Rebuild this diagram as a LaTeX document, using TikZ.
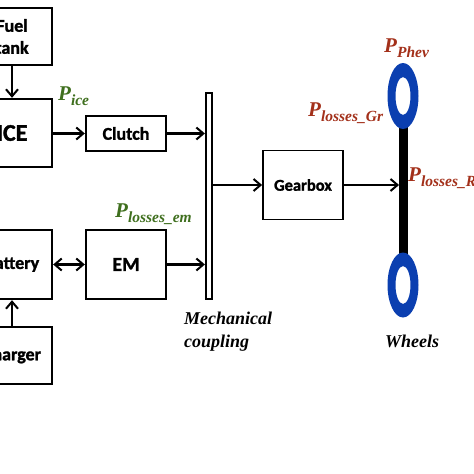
\documentclass[tikz,border=0pt]{standalone}
\usepackage{fontspec}
\setmainfont[BoldFeatures={FakeBold=1.5}]{Carlito}
\newfontfamily\serifbi[BoldFont={Liberation Serif Bold},ItalicFont={Liberation Serif Italic},BoldItalicFont={Liberation Serif Bold Italic}]{Liberation Serif}
\usetikzlibrary{arrows.meta,shapes.geometric}
\definecolor{pgreen}{HTML}{3F6F1E}
\definecolor{pred}{HTML}{A3301A}
\definecolor{wblue}{HTML}{0B3FB0}
\tikzset{
  x=1pt,y=-1pt,
  blockbox/.style={draw=black,line width=2.4pt,fill=white,inner sep=0pt,align=center,font=\bfseries\fontsize{18}{21}\selectfont,text=black},
  conn/.style={line width=2.2pt,draw=black,-{Straight Barb[length=7pt,width=12pt,line width=2pt]}},
  biconn/.style={line width=2.2pt,draw=black,{Straight Barb[length=7pt,width=12pt,line width=2pt]}-{Straight Barb[length=7pt,width=12pt,line width=2pt]}},
  plabel/.style={inner sep=0pt,font=\serifbi\bfseries\itshape},
  caplabel/.style={inner sep=0pt,align=left,font=\serifbi\bfseries\itshape\fontsize{18}{23}\selectfont,text=black},
}
\newcommand{\plab}[2]{{\fontsize{21}{21}\selectfont #1}{\fontsize{15.5}{15}\selectfont\raisebox{-5pt}{#2}}}
\begin{document}
\begin{tikzpicture}
\useasboundingbox (0,0) rectangle (474,474);
\clip (0,0) rectangle (474,474);
\fill[white] (0,0) rectangle (474,474);
% blocks (left part runs off the picture)
\node[blockbox,minimum width=80pt,minimum height=57pt] (fuel) at (12,36.5) {Fuel\\[1pt]tank};
\node[blockbox,minimum width=80pt,minimum height=68pt,font=\bfseries\fontsize{24}{24}\selectfont] (ice) at (12,133) {ICE};
\node[blockbox,minimum width=80pt,minimum height=35pt] (clutch) at (126,133.5) {Clutch};
\node[blockbox,minimum width=80pt,minimum height=69pt] (battery) at (12,264.5) {Battery};
\node[blockbox,minimum width=80pt,minimum height=69pt,font=\bfseries\fontsize{20}{21}\selectfont] (em) at (126,264.5) {EM};
\node[blockbox,minimum width=80pt,minimum height=57pt] (charger) at (12,355.5) {Charger};
\node[draw=black,line width=2.2pt,fill=white,minimum width=6pt,minimum height=206pt,inner sep=0pt] (bar) at (209,196) {};
\node[blockbox,line width=1.8pt,minimum width=80pt,minimum height=69pt,font=\bfseries\fontsize{16.5}{18}\selectfont] (gear) at (303,185) {Gearbox};
% wheels
\node[fill=black,minimum width=8.5pt,minimum height=134pt,inner sep=0pt] (axle) at (403.5,191) {};
\fill[wblue,even odd rule] (403,96) ellipse [x radius=15.5,y radius=33] (403,96) ellipse [x radius=7.5,y radius=19];
\fill[wblue,even odd rule] (403,285) ellipse [x radius=15.5,y radius=32.5] (403,285) ellipse [x radius=7.5,y radius=19];
% connectors
\draw[conn] (fuel.south) -- (ice.north);
\draw[conn] (ice.east |- clutch.west) -- (clutch.west);
\draw[conn] (clutch.east) -- (clutch.east -| bar.west);
\draw[biconn] (battery.east) -- (em.west);
\draw[conn] (em.east) -- (em.east -| bar.west);
\draw[conn] (charger.north) -- (battery.south);
\draw[conn,line width=1.8pt] (gear.west -| bar.east) -- (gear.west);
\draw[conn,line width=1.8pt] (gear.east) -- (gear.east -| axle.west);
% labels
\node[plabel,text=pgreen,anchor=west] (pice) at (58,96) {\plab{P}{ice}};
\node[plabel,text=pgreen,anchor=west] (pem) at (115,214) {\plab{P}{losses\_em}};
\node[plabel,text=pred,anchor=west] (pphev) at (384,48) {\plab{P}{Phev}};
\node[plabel,text=pred,anchor=west] (pgr) at (308,113) {\plab{P}{losses\_Gr}};
\node[plabel,text=pred,anchor=west] (prr) at (408,178) {\plab{P}{losses\_R}};
\node[caplabel,anchor=north west] (mc) at (184,312) {Mechanical\\coupling};
\node[caplabel,anchor=north west] (wh) at (385,335) {Wheels};
\end{tikzpicture}
\end{document}
